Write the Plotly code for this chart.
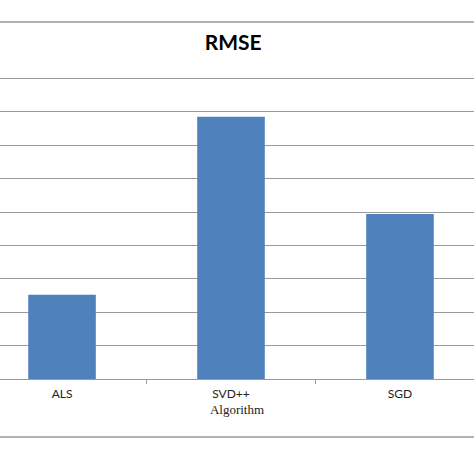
import plotly.graph_objects as go

algorithms = ["ALS", "SVD++", "SGD"]
rmse = [2.52, 7.85, 4.94]
grid_values = [0, 1, 2, 3, 4, 5, 6, 7, 8, 9]

BAR = "#4f81bd"
GRID = "#9a9a9a"

fig = go.Figure(
    go.Bar(x=algorithms, y=rmse, marker=dict(color=BAR, line=dict(width=0)), width=0.4)
)

fig.update_layout(
    width=474, height=474,
    margin=dict(l=0, r=0, t=22, b=95),
    paper_bgcolor="white", plot_bgcolor="white",
    showlegend=False,
    title=dict(text="<b>RMSE</b>", x=0.492, xanchor="center", y=0.911, yanchor="middle",
               font=dict(family="Lato", size=21, color="black")),
    xaxis=dict(
        range=[-0.367, 2.438],
        tickson="boundaries", ticks="outside", ticklen=4, tickcolor=GRID,
        showline=False, showgrid=False,
        ticklabelstandoff=6,
        tickfont=dict(family="Lato", size=12, color="#222"),
        title=dict(text="Algorithm", standoff=4,
                   font=dict(family="Liberation Serif", size=13, color="#222")),
    ),
    yaxis=dict(
        range=[0, (379 - 22) / 33.4],
        tickvals=grid_values, showticklabels=False,
        showgrid=True, gridcolor=GRID, gridwidth=1.3,
        zeroline=True, zerolinecolor=GRID, zerolinewidth=1.3,
    ),
    shapes=[
        dict(type="line", xref="paper", yref="paper", x0=0, x1=1, y0=1, y1=1,
             line=dict(color=GRID, width=1.3)),
        dict(type="line", xref="paper", yref="paper", x0=0, x1=1,
             y0=(379 - 437) / 357, y1=(379 - 437) / 357,
             line=dict(color=GRID, width=1.3)),
    ],
)

fig.write_html("out.html", config={"displayModeBar": False},
               post_script="document.body.style.margin='0';")
